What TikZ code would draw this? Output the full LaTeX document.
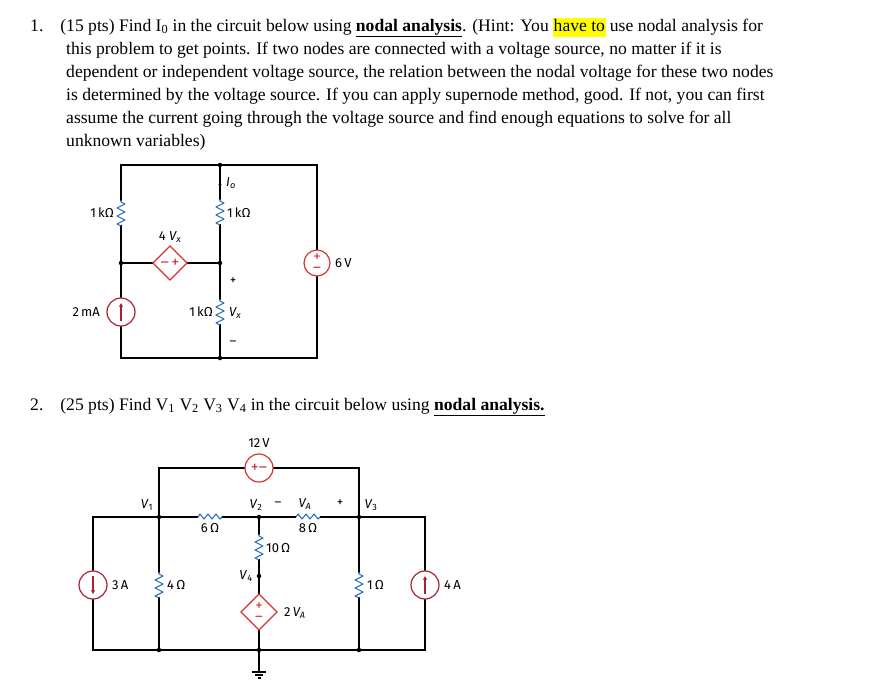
\documentclass[tikz,border=0pt]{standalone}
\usepackage{fontspec}
\setmainfont{Liberation Serif}
\newfontfamily\cf{Fira Sans}
\usetikzlibrary{arrows.meta}
\definecolor{rb}{RGB}{40,110,185}
\definecolor{sr}{RGB}{215,50,50}
\definecolor{dr}{RGB}{165,35,55}
\definecolor{hl}{RGB}{255,255,0}
\newcommand\myhl[1]{{\setlength{\fboxsep}{0.5pt}\colorbox{hl}{\strut #1}}}
\tikzset{wire/.style={line width=1.3pt,black},
 res/.style={rb,line width=1.1pt,line join=round},
 src/.style={line width=1.2pt,fill=white},
 lab/.style={font=\cf\fontsize{13}{13}\selectfont,inner sep=1pt},
 sgn/.style={font=\cf\fontsize{16}{16}\selectfont,inner sep=0pt},
 vsgn/.style={font=\cf\fontsize{15}{11}\selectfont,inner sep=0pt,align=center},
 txt/.style={anchor=base west,inner sep=0pt,font=\fontsize{17.6}{17.6}\selectfont},
 dot/.style={circle,fill=black,inner sep=0pt,minimum size=4.5pt}}
\newcommand\vres[2]{\draw[white,line width=4pt](#1,#2-12)--(#1,#2+12);
 \draw[res](#1,#2-13)--(#1,#2-11)--(#1+4,#2-9)--(#1-4,#2-5)--(#1+4,#2-1)--(#1-4,#2+3)--(#1+4,#2+7)--(#1-4,#2+11)--(#1,#2+13);}
\newcommand\hres[2]{\draw[white,line width=4pt](#1-12,#2)--(#1+12,#2);
 \draw[res](#1-12,#2)--(#1-10,#2-3)--(#1-6,#2+2)--(#1-2,#2-3)--(#1+2,#2+2)--(#1+6,#2-3)--(#1+10,#2+2)--(#1+12,#2);}
\begin{document}
\begin{tikzpicture}[x=1pt,y=-1pt]
\useasboundingbox[fill=white](0,0) rectangle (884,689);
% text
\node[txt] (l1) at (30,31) {1.\hspace{17pt}(15 pts) Find I\textsubscript{0} in the circuit below using \textbf{\underline{nodal analysis}}. (Hint: You \myhl{have to} use nodal analysis for};
\node[txt] (l2) at (66,54) {this problem to get points. If two nodes are connected with a voltage source, no matter if it is};
\node[txt] (l3) at (66,77) {dependent or independent voltage source, the relation between the nodal voltage for these two nodes};
\node[txt] (l4) at (66,100) {is determined by the voltage source. If you can apply supernode method, good. If not, you can first};
\node[txt] (l5) at (66,123) {assume the current going through the voltage source and find enough equations to solve for all};
\node[txt] (l6) at (66,146) {unknown variables)};
\node[txt] (p2) at (30,410) {2.\hspace{17pt}(25 pts) Find V\textsubscript{1} V\textsubscript{2} V\textsubscript{3} V\textsubscript{4} in the circuit below using \textbf{\underline{nodal analysis.}}};
% ---- circuit 1
\draw[wire] (121,165) rectangle (317,358);
\draw[wire] (220,165)--(220,358);
\draw[wire] (121,263)--(220,263);
\vres{121}{213}
\vres{220}{212}
\vres{220}{312}
\draw[-{Stealth[length=4pt,width=3pt]},line width=1pt] (220,176)--(220,188);
\node[lab,font=\cf\itshape\fontsize{13}{13}\selectfont] (io) at (231,183) {I\textsubscript{o}};
\node[lab,anchor=east] (r1) at (115,213) {1\,kΩ};
\node[lab,anchor=west] (r2) at (226,213) {1\,kΩ};
\node[lab,anchor=east] (r3) at (214,312) {1\,kΩ};
\node[lab,anchor=west] (vx) at (228,313) {\textit{V\textsubscript{x}}};
\node[lab] (pl) at (233,281) {+};
\node[lab] (mi) at (233,343) {\textendash};
\filldraw[src,draw=sr] (153,263)--(170,246)--(187,263)--(170,280)--cycle;
\node[sgn,sr] (dpm) at (170,263) {\textendash\,+};
\node[lab] (fvx) at (170,237) {4 \textit{V\textsubscript{x}}};
\filldraw[src,draw=sr] (317,263) circle (13);
\node[vsgn,sr] (s6pm) at (317,263) {+\\\textendash};
\node[lab,anchor=west] (s6) at (334,263) {6\,V};
\filldraw[src,draw=dr] (121,312) circle (14);
\draw[dr,line width=1.1pt,-{Stealth[length=4pt,width=4pt]}] (121,321)--(121,303);
\node[lab,anchor=east] (ma) at (101,312) {2\,mA};
\foreach \p in {(220,165),(121,263),(220,263),(220,358)} \node[dot] at \p {};
% ---- circuit 2
\draw[wire] (93,517) rectangle (425,650);
\draw[wire] (159,517)--(159,468)--(359,468)--(359,517);
\draw[wire] (159,517)--(159,650);
\draw[wire] (259,517)--(259,672);
\draw[wire] (359,517)--(359,650);
\hres{210}{517}
\hres{308}{517}
\vres{259}{547}
\vres{159}{585}
\vres{359}{585}
\node[lab,anchor=north] (r6) at (210,522) {6\,Ω};
\node[lab,anchor=north] (r8) at (308,522) {8\,Ω};
\node[lab,anchor=west] (r10) at (265,548) {10\,Ω};
\node[lab,anchor=west] (r4) at (166,585) {4\,Ω};
\node[lab,anchor=west] (r1b) at (366,585) {1\,Ω};
\filldraw[src,draw=sr] (259,468) circle (14);
\node[sgn,sr] (s12) at (259,468) {+\textendash};
\node[lab] (l12) at (259,443) {12\,V};
\node[lab] (v1) at (147,505) {\textit{V}\textsubscript{1}};
\node[lab] (v2) at (256,505) {\textit{V}\textsubscript{2}};
\node[lab] (vam) at (278,504) {\textendash};
\node[lab] (va) at (305,504) {\textit{V\textsubscript{A}}};
\node[lab] (vap) at (340,503) {+};
\node[lab] (v3) at (371,505) {\textit{V}\textsubscript{3}};
\node[lab] (v4) at (246,576) {\textit{V}\textsubscript{4}};
\filldraw[src,draw=sr] (241,612)--(259,594)--(277,612)--(259,630)--cycle;
\node[vsgn,sr] (dpm2) at (259,612) {+\\\textendash};
\node[lab,anchor=west] (tva) at (283,613) {2\,\textit{V\textsubscript{A}}};
\filldraw[src,draw=dr] (93,585) circle (14);
\draw[dr,line width=1.1pt,-{Stealth[length=4pt,width=4pt]}] (93,576)--(93,594);
\node[lab,anchor=west] (a3) at (111,585) {3\,A};
\filldraw[src,draw=dr] (425,585) circle (14);
\draw[dr,line width=1.1pt,-{Stealth[length=4pt,width=4pt]}] (425,594)--(425,576);
\node[lab,anchor=west] (a4) at (443,585) {4\,A};
\draw[line width=1.2pt] (252,672)--(266,672) (255,675)--(263,675) (257.5,678)--(260.5,678);
\foreach \p in {(159,517),(259,517),(359,517),(159,650),(259,650),(359,650),(259,576)} \node[dot] at \p {};
\end{tikzpicture}
\end{document}
